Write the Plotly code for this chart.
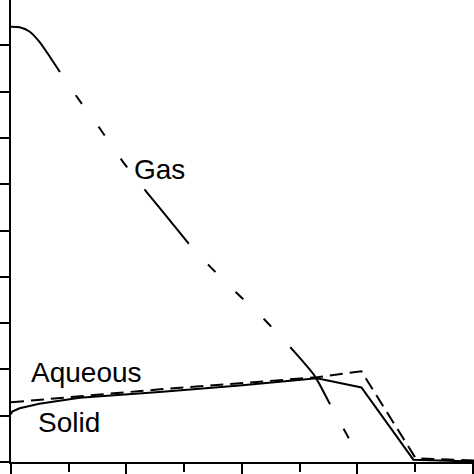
import plotly.graph_objects as go

# Gas phase curve
gas_x = [0.00, 0.15, 0.32, 0.49, 0.67, 0.86, 1.14, 1.53, 1.93, 2.35, 2.73, 3.11, 3.44, 3.91, 4.41, 4.88, 5.26, 5.55, 5.88]
gas_y = [9.40, 9.39, 9.30, 9.08, 8.76, 8.40, 7.89, 7.22, 6.50, 5.83, 5.25, 4.67, 4.23, 3.65, 3.05, 2.42, 1.86, 1.19, 0.45]

# Aqueous phase curve (dashed)
aq_x = [0.00, 2.58, 5.30, 6.07, 7.01, 8.02]
aq_y = [1.29, 1.57, 1.83, 1.96, 0.08, 0.03]

# Solid phase curve
sol_x = [0.00, 0.02, 0.15, 0.49, 1.19, 2.57, 3.96, 5.30, 6.07, 6.97, 8.02]
sol_y = [1.03, 1.09, 1.16, 1.26, 1.39, 1.51, 1.65, 1.81, 1.61, 0.05, 0.01]

labels = ["Gas", "Aqueous", "Solid"]
label_x = [2.58, 1.31, 1.00]
label_y = [6.32, 1.94, 0.85]

fig = go.Figure()
fig.add_trace(go.Scatter(x=gas_x, y=gas_y, mode="lines", line_shape="spline",
                         line=dict(color="black", width=2, smoothing=0.6,
                                   dash="70px,28px,11px,28px,11px,28px,11px,28px")))
fig.add_trace(go.Scatter(x=aq_x, y=aq_y, mode="lines",
                         line=dict(color="black", width=2, dash="13px,7px")))
fig.add_trace(go.Scatter(x=sol_x, y=sol_y, mode="lines",
                         line=dict(color="black", width=2)))

for t, x, y in zip(labels, label_x, label_y):
    fig.add_annotation(x=x, y=y, text=t, showarrow=False, xanchor="center", yanchor="middle",
                       font=dict(family="Liberation Sans, Arial", size=28, color="black"))

fig.update_layout(
    width=474, height=474,
    margin=dict(l=11, r=0, t=0, b=12),
    paper_bgcolor="white", plot_bgcolor="white",
    showlegend=False,
)
fig.update_xaxes(range=[0, 8.02], showgrid=False, zeroline=False, showticklabels=False,
                 showline=True, linecolor="black", linewidth=2,
                 ticks="outside", ticklen=11, tickwidth=2, tickcolor="black", tick0=0, dtick=2,
                 minor=dict(ticks="outside", ticklen=8, tickwidth=2, tickcolor="black", tick0=0, dtick=1))
fig.update_yaxes(range=[0, 9.98], showgrid=False, zeroline=False, showticklabels=False,
                 showline=True, linecolor="black", linewidth=2,
                 ticks="outside", ticklen=9, tickwidth=2, tickcolor="black", tick0=0, dtick=1)

fig.write_html("out.html", config={"displayModeBar": False},
               post_script="document.body.style.margin='0px';")
